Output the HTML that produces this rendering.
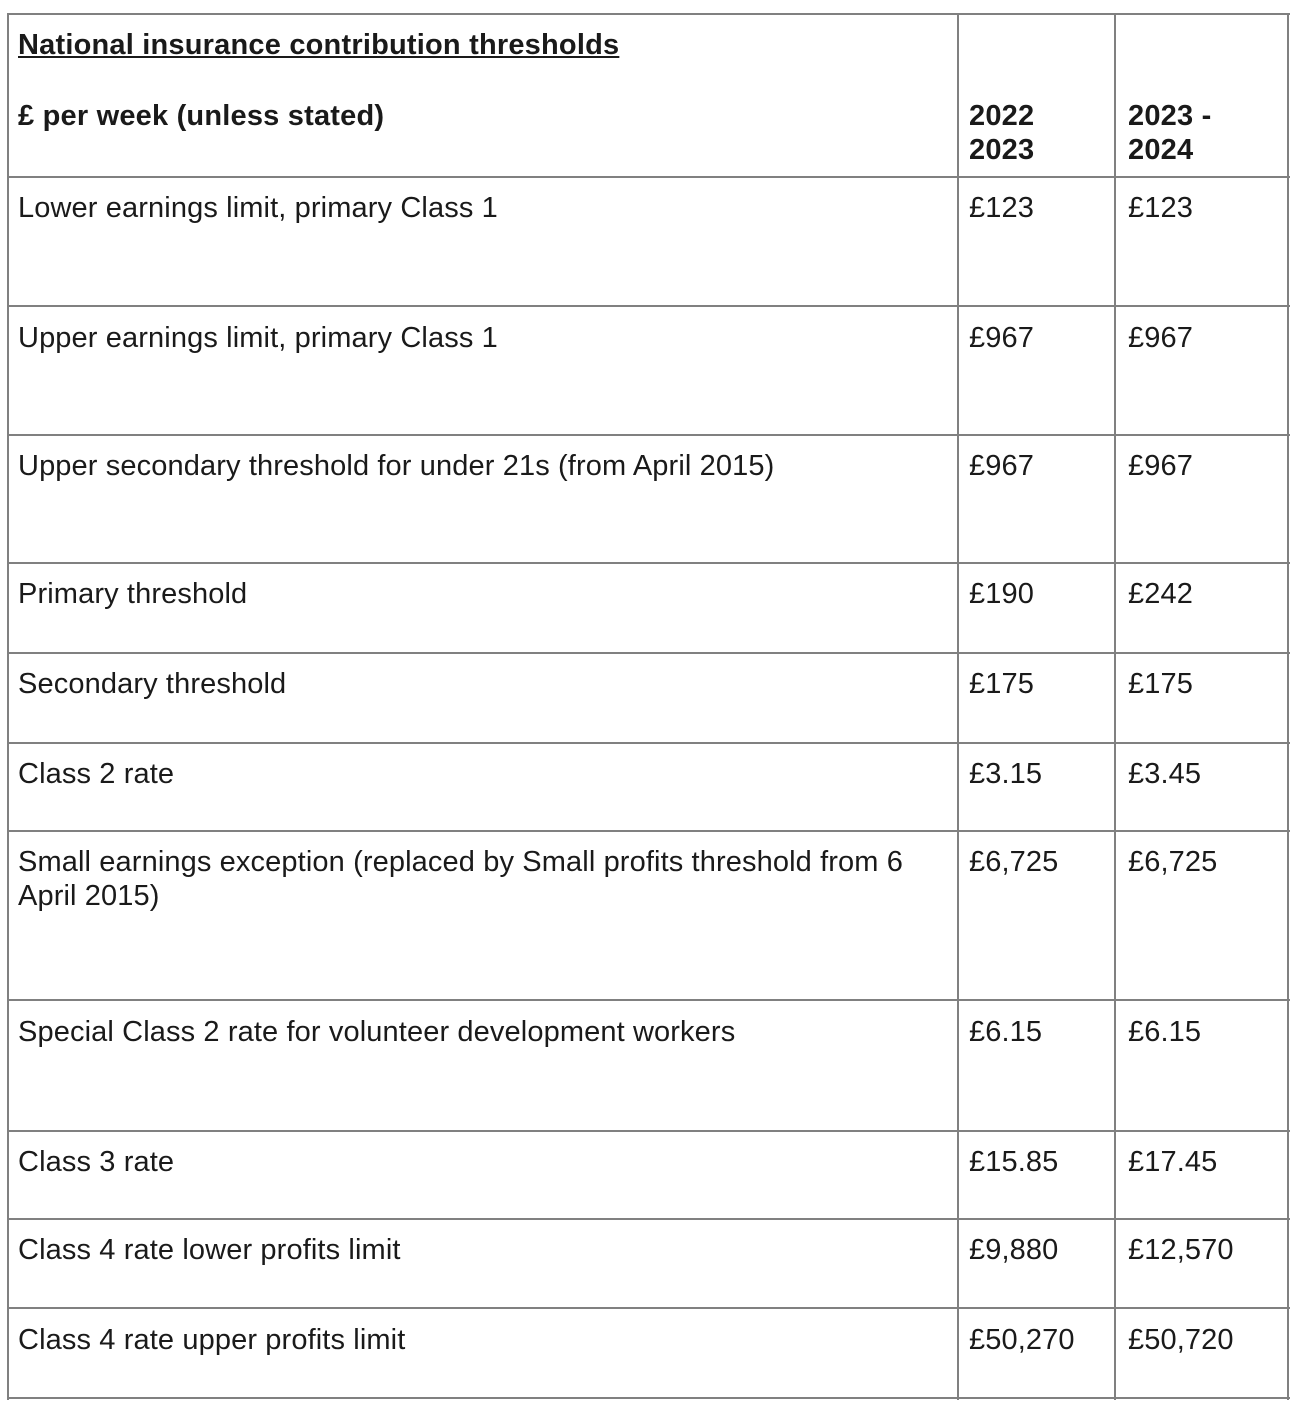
<!DOCTYPE html>
<html><head><meta charset="utf-8"><style>
html,body{margin:0;padding:0;background:#fff;width:1300px;height:1410px;overflow:hidden}
body{position:relative;font-family:"Liberation Sans",Arial,sans-serif;color:#1a1a1a;font-size:29px;line-height:34px;letter-spacing:0.12px}
.h{position:absolute;height:2px;background:#808080;left:7px;width:1283px}
.v{position:absolute;width:2px;background:#808080;top:13px;height:1387px}
.t{position:absolute;white-space:nowrap}
.b{font-weight:bold;letter-spacing:0.2px}
</style></head><body>
<div class="h" style="top:13px"></div>
<div class="h" style="top:176px"></div>
<div class="h" style="top:305px"></div>
<div class="h" style="top:434px"></div>
<div class="h" style="top:562px"></div>
<div class="h" style="top:652px"></div>
<div class="h" style="top:742px"></div>
<div class="h" style="top:830px"></div>
<div class="h" style="top:999px"></div>
<div class="h" style="top:1130px"></div>
<div class="h" style="top:1218px"></div>
<div class="h" style="top:1307px"></div>
<div class="h" style="top:1397px"></div>
<div class="v" style="left:7px"></div>
<div class="v" style="left:957px"></div>
<div class="v" style="left:1114px"></div>
<div class="v" style="left:1287px"></div>

<div class="t b" style="left:18px;top:28px;text-decoration:underline">National insurance contribution thresholds</div>
<div class="t b" style="left:18px;top:99px">£ per week (unless stated)</div>
<div class="t b" style="left:969px;top:99px">2022<br>2023</div>
<div class="t b" style="left:1128px;top:99px">2023 -<br>2024</div>

<div class="t" style="left:18px;top:191px">Lower earnings limit, primary Class 1</div>
<div class="t" style="left:969px;top:191px">£123</div>
<div class="t" style="left:1128px;top:191px">£123</div>

<div class="t" style="left:18px;top:321px">Upper earnings limit, primary Class 1</div>
<div class="t" style="left:969px;top:321px">£967</div>
<div class="t" style="left:1128px;top:321px">£967</div>

<div class="t" style="left:18px;top:449px">Upper secondary threshold for under 21s (from April 2015)</div>
<div class="t" style="left:969px;top:449px">£967</div>
<div class="t" style="left:1128px;top:449px">£967</div>

<div class="t" style="left:18px;top:577px">Primary threshold</div>
<div class="t" style="left:969px;top:577px">£190</div>
<div class="t" style="left:1128px;top:577px">£242</div>

<div class="t" style="left:18px;top:667px">Secondary threshold</div>
<div class="t" style="left:969px;top:667px">£175</div>
<div class="t" style="left:1128px;top:667px">£175</div>

<div class="t" style="left:18px;top:757px">Class 2 rate</div>
<div class="t" style="left:969px;top:757px">£3.15</div>
<div class="t" style="left:1128px;top:757px">£3.45</div>

<div class="t" style="left:18px;top:845px">Small earnings exception (replaced by Small profits threshold from 6<br>April 2015)</div>
<div class="t" style="left:969px;top:845px">£6,725</div>
<div class="t" style="left:1128px;top:845px">£6,725</div>

<div class="t" style="left:18px;top:1015px">Special Class 2 rate for volunteer development workers</div>
<div class="t" style="left:969px;top:1015px">£6.15</div>
<div class="t" style="left:1128px;top:1015px">£6.15</div>

<div class="t" style="left:18px;top:1145px">Class 3 rate</div>
<div class="t" style="left:969px;top:1145px">£15.85</div>
<div class="t" style="left:1128px;top:1145px">£17.45</div>

<div class="t" style="left:18px;top:1233px">Class 4 rate lower profits limit</div>
<div class="t" style="left:969px;top:1233px">£9,880</div>
<div class="t" style="left:1128px;top:1233px">£12,570</div>

<div class="t" style="left:18px;top:1323px">Class 4 rate upper profits limit</div>
<div class="t" style="left:969px;top:1323px">£50,270</div>
<div class="t" style="left:1128px;top:1323px">£50,720</div>
</body></html>
